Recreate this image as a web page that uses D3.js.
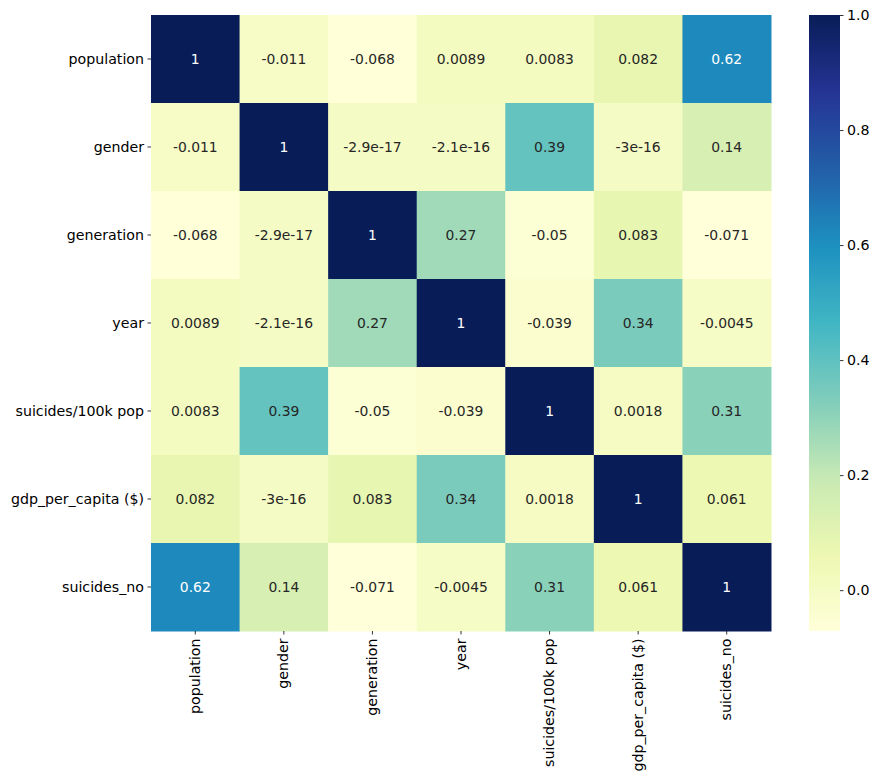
<!DOCTYPE html>
<html><head><meta charset="utf-8">
<script src="https://cdn.jsdelivr.net/npm/d3@7"></script>
<style>body{margin:0;background:#fff}svg{display:block}text{font-family:"DejaVu Sans",sans-serif;}</style>
</head><body>
<svg id="chart" width="882" height="782"></svg>
<script>
const labels = ["population","gender","generation","year","suicides/100k pop","gdp_per_capita ($)","suicides_no"];
const row_population = [1, -0.011, -0.068, 0.0089, 0.0083, 0.082, 0.62];
const row_gender = [-0.011, 1, -2.9e-17, -2.1e-16, 0.39, -3e-16, 0.14];
const row_generation = [-0.068, -2.9e-17, 1, 0.27, -0.05, 0.083, -0.071];
const row_year = [0.0089, -2.1e-16, 0.27, 1, -0.039, 0.34, -0.0045];
const row_suicides100k = [0.0083, 0.39, -0.05, -0.039, 1, 0.0018, 0.31];
const row_gdp = [0.082, -3e-16, 0.083, 0.34, 0.0018, 1, 0.061];
const row_suicides_no = [0.62, 0.14, -0.071, -0.0045, 0.31, 0.061, 1];
const colorbarTicks = [0.0, 0.2, 0.4, 0.6, 0.8, 1.0];
const ylgnbu = ["#ffffd9","#edf8b1","#c7e9b4","#7fcdbb","#41b6c4","#1d91c0","#225ea8","#253494","#081d58"];

(function(){
const matrix = [row_population,row_gender,row_generation,row_year,row_suicides100k,row_gdp,row_suicides_no];
const cells = [];
matrix.forEach((r,i)=>r.forEach((v,j)=>cells.push({row:labels[i],col:labels[j],v})));

const loc = d3.formatLocale({decimal:".",thousands:",",grouping:[3],currency:["$",""],minus:"-"});

const vmin = d3.min(cells,d=>d.v), vmax = d3.max(cells,d=>d.v);
const cmap = d3.scaleLinear().domain(ylgnbu.map((_,i)=>vmin+(vmax-vmin)*i/(ylgnbu.length-1))).range(ylgnbu).interpolate(d3.interpolateRgb).clamp(true);

const pL=151,pR=771,pT=15,pB=631;
const x = d3.scaleBand().domain(labels).range([pL,pR]);
const y = d3.scaleBand().domain(labels).range([pT,pB]);
const svg = d3.select("#chart");

function fmt(v){
  if(v!==0 && Math.abs(v)<1e-4){
    let s = loc.format(".1e")(v);
    let [m,e] = s.split("e");
    m = m.replace(/\.0$/,"");
    let sign = e[0]==="-"?"-":"+";
    let digits = e.replace(/^[-+]/,"").padStart(2,"0");
    return m+"e"+sign+digits;
  }
  return loc.format(".2~g")(v);
}
function lum(c){
  const rgb=d3.rgb(c);
  const f=t=>{t/=255;return t<=0.03928?t/12.92:Math.pow((t+0.055)/1.055,2.4);};
  return 0.2126*f(rgb.r)+0.7152*f(rgb.g)+0.0722*f(rgb.b);
}

svg.append("g").selectAll("rect").data(cells).join("rect")
  .attr("x",d=>x(d.col)).attr("y",d=>y(d.row))
  .attr("width",x.bandwidth()+0.5).attr("height",y.bandwidth()+0.5)
  .attr("fill",d=>cmap(d.v));

svg.append("g").selectAll("text").data(cells).join("text")
  .attr("x",d=>x(d.col)+x.bandwidth()/2).attr("y",d=>y(d.row)+y.bandwidth()/2)
  .attr("text-anchor","middle").attr("dominant-baseline","central")
  .attr("font-size","13.9px")
  .attr("fill",d=>lum(cmap(d.v))>0.408?"#262626":"#ffffff")
  .text(d=>fmt(d.v));

const yAxis = svg.append("g").attr("transform",`translate(${pL},0)`)
  .call(d3.axisLeft(y).tickSize(3.5).tickPadding(3.5));
yAxis.select(".domain").remove();
yAxis.selectAll("text").attr("font-size","14.2px").attr("fill","#000").attr("font-family","DejaVu Sans");
yAxis.selectAll("line").attr("stroke","#000").attr("stroke-width",0.8);

const xAxis = svg.append("g").attr("transform",`translate(0,${pB})`)
  .call(d3.axisBottom(x).tickSize(3.5).tickPadding(3.5));
xAxis.select(".domain").remove();
xAxis.selectAll("line").attr("stroke","#000").attr("stroke-width",0.8);
xAxis.selectAll("text").attr("font-size","14.2px").attr("fill","#000").attr("font-family","DejaVu Sans")
  .attr("transform","rotate(-90)").attr("text-anchor","end").attr("dy","0.32em").attr("x",-7.5).attr("y",0);

const cbx=809, cbw=31;
const cy = d3.scaleLinear().domain([vmin,vmax]).range([pB,pT]);
const defs = svg.append("defs");
const grad = defs.append("linearGradient").attr("id","cbgrad").attr("x1",0).attr("y1",1).attr("x2",0).attr("y2",0);
d3.range(0,1.0001,0.02).forEach(t=>grad.append("stop").attr("offset",t).attr("stop-color",cmap(vmin+(vmax-vmin)*t)));
svg.append("rect").attr("x",cbx).attr("y",pT).attr("width",cbw).attr("height",pB-pT).attr("fill","url(#cbgrad)");
const cAxis = svg.append("g").attr("transform",`translate(${cbx+cbw},0)`)
  .call(d3.axisRight(cy).tickValues(colorbarTicks).tickFormat(loc.format(".1f")).tickSize(3.5).tickPadding(3.5));
cAxis.select(".domain").remove();
cAxis.selectAll("line").attr("stroke","#000").attr("stroke-width",0.8);
cAxis.selectAll("text").attr("font-size","14.2px").attr("fill","#000").attr("font-family","DejaVu Sans");
})();
</script>
</body></html>
